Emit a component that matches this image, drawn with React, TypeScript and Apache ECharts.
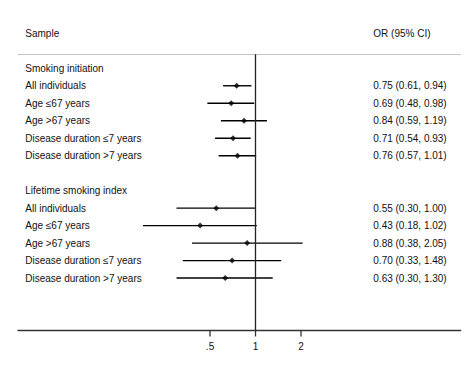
import React, { useEffect, useRef } from "react";
import * as echarts from "echarts";

const headers = ["Sample", "OR (95% CI)"];
const groupTitles = ["Smoking initiation", "Lifetime smoking index"];
const subgroups = [
  "All individuals",
  "Age ≤67 years",
  "Age >67 years",
  "Disease duration ≤7 years",
  "Disease duration >7 years",
];
const smokingOR = [0.75, 0.69, 0.84, 0.71, 0.76];
const smokingLow = [0.61, 0.48, 0.59, 0.54, 0.57];
const smokingHigh = [0.94, 0.98, 1.19, 0.93, 1.01];
const lifetimeOR = [0.55, 0.43, 0.88, 0.7, 0.63];
const lifetimeLow = [0.3, 0.18, 0.38, 0.33, 0.3];
const lifetimeHigh = [1.0, 1.02, 2.05, 1.48, 1.3];
const tickValues = [0.5, 1, 2];
const tickLabels = [".5", "1", "2"];

const X_MIN = 0.0268;
const X_MAX = 22.8;
const Y_MIN = -0.8;
const Y_MAX = 15;
const HEADER_ROW = -2;

const FONT = '"Liberation Sans", Arial, Helvetica, sans-serif';
const FS = 10;
const TEXT = "#111";

type Row = { label: string; row: number; or?: number; lo?: number; hi?: number };

function buildRows(): Row[] {
  const groups = [
    { title: groupTitles[0], or: smokingOR, lo: smokingLow, hi: smokingHigh },
    { title: groupTitles[1], or: lifetimeOR, lo: lifetimeLow, hi: lifetimeHigh },
  ];
  const rows: Row[] = [];
  let r = 0;
  groups.forEach((g) => {
    rows.push({ label: g.title, row: r });
    r++;
    subgroups.forEach((s, i) => {
      rows.push({ label: s, row: r, or: g.or[i], lo: g.lo[i], hi: g.hi[i] });
      r++;
    });
    r++;
  });
  return rows;
}

const f2 = (v: number) => v.toFixed(2);

export default function App() {
  const ref = useRef<HTMLDivElement>(null);
  useEffect(() => {
    if (!ref.current) return;
    const chart = echarts.init(ref.current, undefined, { renderer: "svg" });
    const rows = buildRows();
    const estRows = rows.filter((r) => r.or !== undefined);

    const leftTexts = [
      { label: headers[0], row: HEADER_ROW },
      ...rows.map((r) => ({ label: r.label, row: r.row })),
    ];
    const rightTexts = [
      { label: headers[1], row: HEADER_ROW },
      ...estRows.map((r) => ({
        label: `${f2(r.or!)} (${f2(r.lo!)}, ${f2(r.hi!)})`,
        row: r.row,
      })),
    ];

    const textStyle = (text: string, align: string) => ({
      text,
      fill: TEXT,
      fontSize: FS,
      fontFamily: FONT,
      align,
      verticalAlign: "middle",
    });

    chart.setOption({
      animation: false,
      grid: { left: 18, right: 13.3, top: 54.3, bottom: 40.5, containLabel: false },
      xAxis: [
        {
          type: "log",
          logBase: 2,
          min: X_MIN,
          max: X_MAX,
          position: "bottom",
          axisLine: { show: true, onZero: false, lineStyle: { color: "#333", width: 1.3 } },
          axisTick: { show: false },
          axisLabel: { show: false },
          splitLine: { show: false },
        },
        {
          type: "log",
          logBase: 2,
          min: X_MIN,
          max: X_MAX,
          position: "top",
          axisLine: { show: true, onZero: false, lineStyle: { color: "#c4c4c4", width: 1 } },
          axisTick: { show: false },
          axisLabel: { show: false },
          splitLine: { show: false },
        },
      ],
      yAxis: {
        type: "value",
        inverse: true,
        min: Y_MIN,
        max: Y_MAX,
        show: false,
        splitLine: { show: false },
      },
      series: [
        {
          type: "custom",
          name: "ci",
          clip: false,
          encode: { x: [0, 1], y: 2 },
          data: estRows.map((r) => [r.lo, r.hi, r.row]),
          renderItem: (params: any, api: any) => {
            const p1 = api.coord([api.value(0), api.value(2)]);
            const p2 = api.coord([api.value(1), api.value(2)]);
            return {
              type: "line",
              shape: { x1: p1[0], y1: p1[1], x2: p2[0], y2: p2[1] },
              style: { stroke: "#000", lineWidth: 1.4 },
            };
          },
        },
        {
          type: "scatter",
          name: "or",
          symbol: "diamond",
          symbolSize: 6,
          itemStyle: { color: "#000" },
          data: estRows.map((r) => [r.or, r.row]),
          markLine: {
            silent: true,
            symbol: "none",
            label: { show: false },
            lineStyle: { color: "#222", width: 1.3, type: "solid" },
            data: [{ xAxis: 1 }],
          },
        },
        {
          type: "custom",
          name: "leftText",
          clip: false,
          encode: { x: 0, y: 1 },
          data: leftTexts.map((t) => [X_MIN, t.row]),
          renderItem: (params: any, api: any) => {
            const p = api.coord([api.value(0), api.value(1)]);
            return {
              type: "text",
              x: p[0] + 7.3,
              y: p[1],
              style: textStyle(leftTexts[params.dataIndex].label, "left"),
            };
          },
        },
        {
          type: "custom",
          name: "rightText",
          clip: false,
          encode: { x: 0, y: 1 },
          data: rightTexts.map((t) => [X_MAX, t.row]),
          renderItem: (params: any, api: any) => {
            const p = api.coord([api.value(0), api.value(1)]);
            return {
              type: "text",
              x: p[0] - 87.4,
              y: p[1],
              style: textStyle(rightTexts[params.dataIndex].label, "left"),
            };
          },
        },
        {
          type: "custom",
          name: "ticks",
          clip: false,
          encode: { x: 0, y: 1 },
          data: tickValues.map((v) => [v, Y_MAX]),
          renderItem: (params: any, api: any) => {
            const p = api.coord([api.value(0), api.value(1)]);
            return {
              type: "group",
              children: [
                {
                  type: "line",
                  shape: { x1: p[0], y1: p[1], x2: p[0], y2: p[1] + 6 },
                  style: { stroke: "#333", lineWidth: 1.3 },
                },
                {
                  type: "text",
                  x: p[0],
                  y: p[1] + 15.5,
                  style: textStyle(tickLabels[params.dataIndex], "center"),
                },
              ],
            };
          },
        },
      ],
    });
    return () => chart.dispose();
  }, []);
  return (
    <div
      ref={ref}
      style={{ position: "fixed", left: 0, top: 0, width: 474, height: 371, background: "#fff" }}
    />
  );
}
